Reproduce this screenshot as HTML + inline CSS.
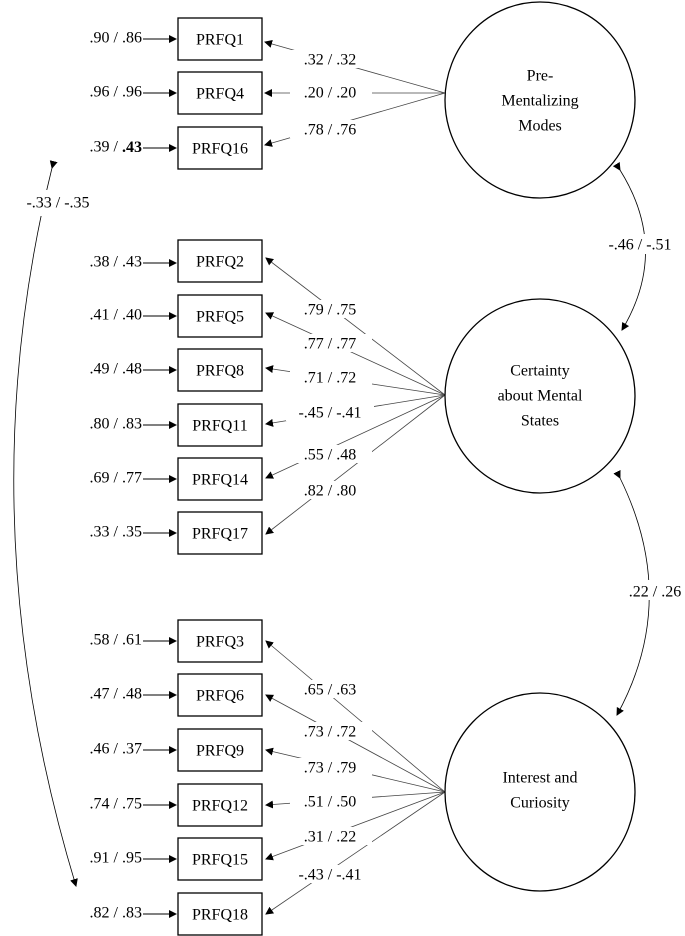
<!DOCTYPE html>
<html><head><style>
html,body{margin:0;padding:0;background:#fff;}
svg{display:block;font-family:"Liberation Serif",serif;}
</style></head><body>
<svg width="685" height="936" viewBox="0 0 685 936" xmlns="http://www.w3.org/2000/svg">
<defs>
<marker id="a" markerWidth="8" markerHeight="8" refX="7" refY="4" orient="auto" markerUnits="userSpaceOnUse">
<path d="M0,0 L8,4 L0,8 z" fill="#000"/></marker>
</defs>
<g fill="none" stroke="#000" stroke-width="1">
<g stroke="#444" stroke-width="0.8">
<line x1="445" y1="93" x2="265" y2="42" marker-end="url(#a)"/>
<line x1="445" y1="93" x2="265" y2="93" marker-end="url(#a)"/>
<line x1="445" y1="93" x2="265" y2="145" marker-end="url(#a)"/>
<line x1="445" y1="395" x2="266" y2="258" marker-end="url(#a)"/>
<line x1="445" y1="395" x2="266" y2="313" marker-end="url(#a)"/>
<line x1="445" y1="395" x2="266" y2="368" marker-end="url(#a)"/>
<line x1="445" y1="395" x2="266" y2="424" marker-end="url(#a)"/>
<line x1="445" y1="395" x2="266" y2="478" marker-end="url(#a)"/>
<line x1="445" y1="395" x2="266" y2="534" marker-end="url(#a)"/>
<line x1="445" y1="792" x2="266" y2="641" marker-end="url(#a)"/>
<line x1="445" y1="792" x2="266" y2="695" marker-end="url(#a)"/>
<line x1="445" y1="792" x2="266" y2="750" marker-end="url(#a)"/>
<line x1="445" y1="792" x2="266" y2="805" marker-end="url(#a)"/>
<line x1="445" y1="792" x2="266" y2="859" marker-end="url(#a)"/>
<line x1="445" y1="792" x2="266" y2="914" marker-end="url(#a)"/>
</g>
<path d="M620,170 Q670,250 622,330" marker-start="url(#a)" marker-end="url(#a)" stroke-width="0.8"/>
<path d="M620,478 Q680,600 617,715" marker-start="url(#a)" marker-end="url(#a)" stroke-width="0.8"/>
<path d="M52,168 Q-35,520 76,886" marker-start="url(#a)" marker-end="url(#a)" stroke-width="0.8"/>
<ellipse cx="540" cy="100" rx="95" ry="98" stroke-width="1.3"/>
<ellipse cx="540" cy="396" rx="95" ry="97" stroke-width="1.3"/>
<ellipse cx="540" cy="792" rx="95" ry="99" stroke-width="1.3"/>
</g>
<g fill="#fff">
<rect x="290" y="50" width="82" height="18"/><rect x="290" y="83" width="82" height="18"/><rect x="290" y="120" width="82" height="18"/>
<rect x="290" y="300" width="82" height="18"/><rect x="290" y="334" width="82" height="18"/><rect x="290" y="368" width="82" height="18"/>
<rect x="286" y="403" width="88" height="18"/><rect x="290" y="445" width="82" height="18"/><rect x="290" y="481" width="82" height="18"/>
<rect x="290" y="680" width="82" height="18"/><rect x="290" y="722" width="82" height="18"/><rect x="290" y="758" width="82" height="18"/>
<rect x="290" y="792" width="82" height="18"/><rect x="290" y="827" width="82" height="18"/><rect x="284" y="865" width="90" height="18"/>
<rect x="598" y="234" width="84" height="20"/><rect x="615" y="580" width="70" height="20"/><rect x="18" y="190" width="80" height="26"/>
</g>
<g fill="#fff" stroke="#000" stroke-width="1.3">
<rect x="178" y="18" width="84" height="42"/><rect x="178" y="72" width="84" height="42"/><rect x="178" y="127" width="84" height="42"/>
<rect x="178" y="240" width="84" height="42"/><rect x="178" y="295" width="84" height="42"/><rect x="178" y="349" width="84" height="42"/>
<rect x="178" y="404" width="84" height="42"/><rect x="178" y="458" width="84" height="42"/><rect x="178" y="512" width="84" height="42"/>
<rect x="178" y="620" width="84" height="42"/><rect x="178" y="674" width="84" height="42"/><rect x="178" y="729" width="84" height="42"/>
<rect x="178" y="784" width="84" height="42"/><rect x="178" y="838" width="84" height="42"/><rect x="178" y="893" width="84" height="42"/>
</g>
<g stroke="#000" stroke-width="1">
<line x1="143" y1="39" x2="176" y2="39" marker-end="url(#a)"/><line x1="143" y1="93" x2="176" y2="93" marker-end="url(#a)"/><line x1="143" y1="148" x2="176" y2="148" marker-end="url(#a)"/>
<line x1="143" y1="263" x2="176" y2="263" marker-end="url(#a)"/><line x1="143" y1="316" x2="176" y2="316" marker-end="url(#a)"/><line x1="143" y1="370" x2="176" y2="370" marker-end="url(#a)"/>
<line x1="143" y1="425" x2="176" y2="425" marker-end="url(#a)"/><line x1="143" y1="479" x2="176" y2="479" marker-end="url(#a)"/><line x1="143" y1="533" x2="176" y2="533" marker-end="url(#a)"/>
<line x1="143" y1="641" x2="176" y2="641" marker-end="url(#a)"/><line x1="143" y1="695" x2="176" y2="695" marker-end="url(#a)"/><line x1="143" y1="750" x2="176" y2="750" marker-end="url(#a)"/>
<line x1="143" y1="805" x2="176" y2="805" marker-end="url(#a)"/><line x1="143" y1="859" x2="176" y2="859" marker-end="url(#a)"/><line x1="143" y1="914" x2="176" y2="914" marker-end="url(#a)"/>
</g>
<g font-size="16" fill="#000" text-anchor="middle" dominant-baseline="central">
<text x="220" y="40">PRFQ1</text><text x="220" y="94">PRFQ4</text><text x="220" y="149">PRFQ16</text>
<text x="220" y="262">PRFQ2</text><text x="220" y="317">PRFQ5</text><text x="220" y="371">PRFQ8</text>
<text x="220" y="426">PRFQ11</text><text x="220" y="480">PRFQ14</text><text x="220" y="534">PRFQ17</text>
<text x="220" y="642">PRFQ3</text><text x="220" y="696">PRFQ6</text><text x="220" y="751">PRFQ9</text>
<text x="220" y="806">PRFQ12</text><text x="220" y="860">PRFQ15</text><text x="220" y="915">PRFQ18</text>
<text x="330" y="60">.32 / .32</text><text x="330" y="93">.20 / .20</text><text x="330" y="130">.78 / .76</text>
<text x="330" y="310">.79 / .75</text><text x="330" y="344">.77 / .77</text><text x="330" y="378">.71 / .72</text>
<text x="330" y="413">-.45 / -.41</text><text x="330" y="455">.55 / .48</text><text x="330" y="491">.82 / .80</text>
<text x="330" y="690">.65 / .63</text><text x="330" y="732">.73 / .72</text><text x="330" y="768">.73 / .79</text>
<text x="330" y="802">.51 / .50</text><text x="330" y="837">.31 / .22</text><text x="330" y="875">-.43 / -.41</text>
<text x="640" y="245">-.46 / -.51</text><text x="655" y="592">.22 / .26</text><text x="58" y="203">-.33 / -.35</text>
<text x="540" y="76">Pre-</text><text x="540" y="101">Mentalizing</text><text x="540" y="126">Modes</text>
<text x="540" y="371">Certainty</text><text x="540" y="396">about Mental</text><text x="540" y="421">States</text>
<text x="540" y="778">Interest and</text><text x="540" y="803">Curiosity</text>
</g>
<g font-size="16" fill="#000" text-anchor="end" dominant-baseline="central">
<text x="142" y="38">.90 / .86</text><text x="142" y="92">.96 / .96</text><text x="142" y="147">.39 / <tspan font-weight="bold">.43</tspan></text>
<text x="142" y="262">.38 / .43</text><text x="142" y="315">.41 / .40</text><text x="142" y="369">.49 / .48</text>
<text x="142" y="424">.80 / .83</text><text x="142" y="478">.69 / .77</text><text x="142" y="532">.33 / .35</text>
<text x="142" y="640">.58 / .61</text><text x="142" y="694">.47 / .48</text><text x="142" y="749">.46 / .37</text>
<text x="142" y="804">.74 / .75</text><text x="142" y="858">.91 / .95</text><text x="142" y="913">.82 / .83</text>
</g>
</svg>
</body></html>
